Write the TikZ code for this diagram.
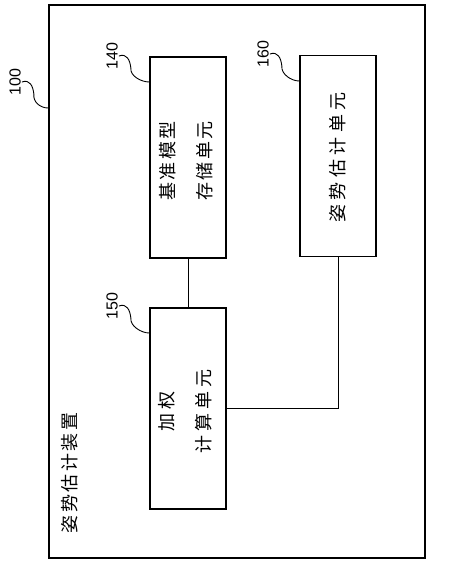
\documentclass[tikz,border=0pt]{standalone}
\usepackage{fontspec}
\setmainfont{Liberation Sans}
\newfontfamily\cjk{Noto Sans CJK SC}
\begin{document}
\begin{tikzpicture}[x=1pt,y=-1pt,
  box/.style={draw,line width=1.5pt,inner sep=0pt,minimum width=76pt,minimum height=201pt},
  wire/.style={line width=0.8pt},
  lead/.style={line width=0.9pt},
  num/.style={rotate=90,font=\fontsize{16}{16}\selectfont,inner sep=1pt},
  cjkt/.style={rotate=90,inner sep=0pt,align=center,font=\cjk\fontsize{18}{37}\selectfont}]
\useasboundingbox (0,0) rectangle (474,566);
\fill[white] (0,0) rectangle (474,566);
\node[draw,line width=1.6pt,minimum width=376pt,minimum height=553pt,inner sep=0pt] (outer) at (237,281.5) {};
\node[box] (b140) at (188,157.5) {};
\node[box] (b160) at (338,156) {};
\node[box] (b150) at (188,408.5) {};
\node[cjkt] (t140) at (186,161) {基\kern2.5pt准\kern2.5pt模\kern2.5pt型\\存\kern2.5pt储\kern2.5pt单\kern2.5pt元};
\node[cjkt] (t160) at (337.5,157.5) {姿\kern4.4pt势\kern4.4pt估\kern4.4pt计\kern4.4pt单\kern4.4pt元};
\node[cjkt] (t150) at (185,411.5) {加\kern4pt权\\计\kern4pt算\kern4pt单\kern4pt元};
\node[cjkt] (title) at (70,473) {姿\kern2.6pt势\kern2.6pt估\kern2.6pt计\kern2.6pt装\kern2.6pt置};
\node[num] (l100) at (15,82) {100};
\node[num] (l140) at (112,56) {140};
\node[num] (l160) at (263,54) {160};
\node[num] (l150) at (112,306) {150};
\draw[wire] (b140.south) -- (b150.north);
\coordinate (j) at (338,408);
\draw[wire] (b150.east |- j) -| (b160.south);
\draw[lead] (l100.south) .. controls +(8,-3) and +(-1,-8) .. ++(12,12) .. controls +(-1,8) and +(-8,0) .. (outer.west |- 0,108);
\draw[lead] (l140.south) .. controls +(8,-3) and +(-1,-8) .. ++(12,12) .. controls +(-1,8) and +(-8,0) .. (b140.west |- 0,82);
\draw[lead] (l160.south) .. controls +(8,-3) and +(-1,-8) .. ++(12,12) .. controls +(-1,8) and +(-8,0) .. (b160.west |- 0,81);
\draw[lead] (l150.south) .. controls +(8,-3) and +(-1,-8) .. ++(12,12) .. controls +(-1,8) and +(-8,0) .. (b150.west |- 0,333);
\end{tikzpicture}
\end{document}
